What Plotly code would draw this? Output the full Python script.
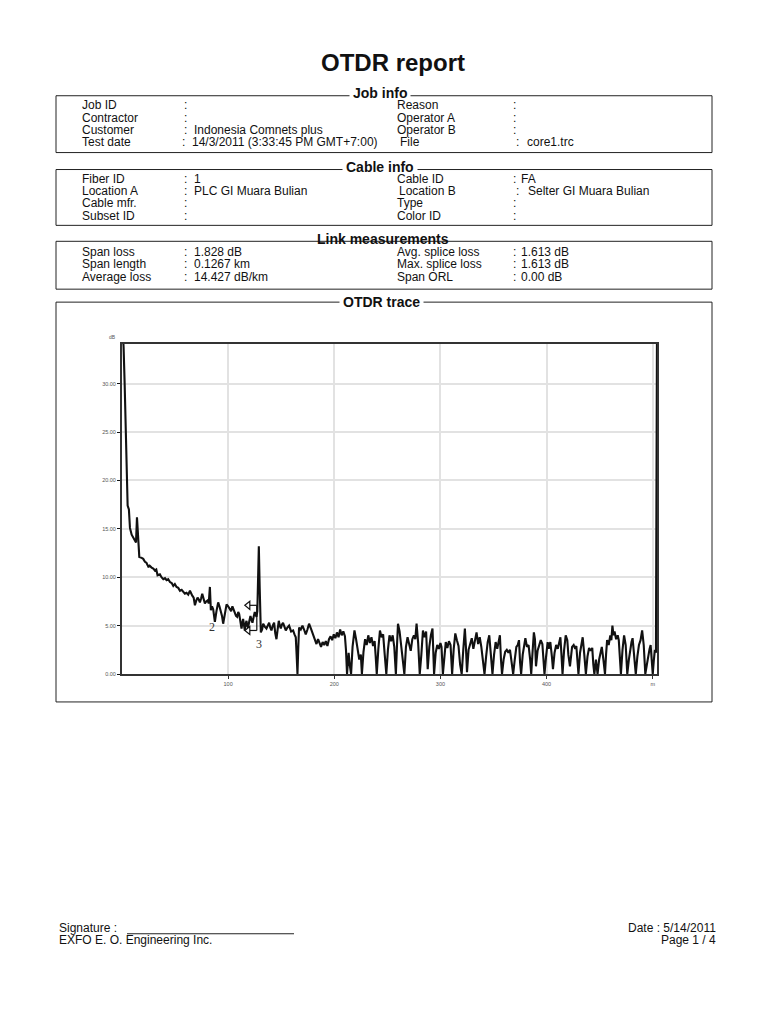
import plotly.graph_objects as go

PAGE_W, PAGE_H = 768, 1024
OFF = 8  # browser page margin around the figure
W, H = PAGE_W - OFF, PAGE_H - OFF
FONT = "Liberation Sans, Arial, sans-serif"

# ---------------- report text ----------------
report_title = "OTDR report"
section_titles = ["Job info", "Cable info", "Link measurements", "OTDR trace"]

job_left_labels = ["Job ID", "Contractor", "Customer", "Test date"]
job_left_values = ["", "", "Indonesia Comnets plus", "14/3/2011 (3:33:45 PM GMT+7:00)"]
job_right_labels = ["Reason", "Operator A", "Operator B", "File"]
job_right_values = ["", "", "", "core1.trc"]

cable_left_labels = ["Fiber ID", "Location A", "Cable mfr.", "Subset ID"]
cable_left_values = ["1", "PLC GI Muara Bulian", "", ""]
cable_right_labels = ["Cable ID", "Location B", "Type", "Color ID"]
cable_right_values = ["FA", "Selter GI Muara Bulian", "", ""]

link_left_labels = ["Span loss", "Span length", "Average loss"]
link_left_values = ["1.828 dB", "0.1267 km", "14.427 dB/km"]
link_right_labels = ["Avg. splice loss", "Max. splice loss", "Span ORL"]
link_right_values = ["1.613 dB", "1.613 dB", "0.00 dB"]

footer_left = ["Signature :", "EXFO E. O. Engineering Inc."]
footer_right = ["Date : 5/14/2011", "Page 1 / 4"]

# ---------------- OTDR trace (distance in m, level in dB) ----------------
distance_m = [
    0.6, 1.5, 2.5, 3.5, 4.4, 5.3, 6.5, 7.5, 9.1, 10.6, 12.2, 13.2, 14.1, 15.0, 16.3, 18.5, 20, 21.6, 23, 24.8,
    26, 27.9, 29.5, 31, 32.3, 33.5, 35.7, 37.2, 38.9, 40.5, 42, 43.5, 45.2, 46.8, 48.3, 49.8, 51.4, 53, 54.6, 56.2,
    57.7, 59.2, 60.8, 62.4, 64, 65.1, 66.2, 67.5, 68.7, 70, 71.2, 72.3, 73.4, 74.5, 75.6, 76.8, 78.1, 79.4, 80.6, 81.7,
    82.8, 83.7, 84.8, 85.9, 86.7, 87.5, 89, 90.6, 91.8, 93, 94.2, 95.3, 96.9, 98.5, 100, 101.6, 102.8, 104, 105.2, 106.3,
    107.4, 108.5, 109.5, 110.4, 111.5, 112.6, 113.4, 114.1, 115, 115.7, 116.5, 117.3, 118, 118.8, 120, 121, 122, 122.9, 124, 125.1,
    126, 126.7, 127.5, 128.3, 128.9, 129.7, 130.8, 132, 133, 134.5, 136.1, 137.3, 138.6, 139.7, 140.8, 142, 143.3, 144.4, 145.5, 146.6,
    147.7, 148.7, 149.6, 150.6, 151.7, 153, 154.3, 155.8, 157.4, 159.3, 161.2, 162.5, 163.7, 164.5, 165.3, 166, 166.8, 168.4, 170, 171.5,
    173.1, 174.7, 176.2, 178, 180, 181.6, 183.2, 184.7, 186, 187.5, 189, 190.5, 192, 193.5, 195, 196.5, 198, 199.5, 201, 202.5,
    204, 205.5, 207, 208.5, 210, 211, 212, 213.5, 214.5, 215.8, 217.2, 219, 220.5, 222, 223.5, 225, 226, 227.5, 229, 230.5,
    232, 233.5, 235, 236.5, 238, 239, 240, 241.5, 243, 244.5, 246, 247.5, 249, 250.5, 252, 253.5, 255, 256.5, 258, 259,
    260, 261.5, 263, 264.5, 266, 267.5, 269, 270.5, 272, 273.5, 275, 276.3, 277.5, 279, 280.5, 282, 283.5, 285, 286.5, 288,
    289.5, 291, 292.5, 294, 295.5, 297, 298.5, 300, 301, 302.3, 303.5, 305, 306.5, 308, 309.5, 311, 312.5, 314, 315.5, 317,
    318.5, 320, 321.5, 323, 324, 325, 326.5, 328, 329.5, 331, 332.5, 334, 335.5, 337, 338.5, 340, 341.5, 343, 344.5, 346,
    347.5, 349, 350.5, 352, 353.5, 355, 356, 357, 358, 359.5, 361, 362.5, 364, 365.5, 367, 368.5, 370, 371.5, 372.8, 374,
    375, 376, 377.5, 379, 380, 381.5, 383, 384.5, 385.5, 386.5, 388, 389, 390, 391.5, 393, 394.5, 396, 397, 398, 399.5,
    401, 402, 403.5, 405, 406, 407.5, 409, 410.5, 412, 413, 414, 415, 416.5, 418, 419.5, 420.5, 422, 423, 424, 425.5,
    427, 428, 429, 430, 431.5, 433, 434, 435.5, 437, 438.5, 440, 441.5, 443, 444, 445, 446.5, 448, 449.5, 451, 452,
    453.5, 455, 456, 457, 458.5, 460, 461, 462, 463, 464, 465.5, 467, 468, 469, 470, 471.5, 473, 474.5, 476, 477.5,
    479, 480, 481, 482.5, 484, 485.5, 487, 488.5, 490, 491.5, 493, 494.5, 496, 497, 498, 499, 500, 501, 502, 503,
    504,
]
level_db = [
    35.5, 33.8, 30.0, 25.0, 20.3, 17.4, 17.0, 15.1, 14.4, 14.1, 13.8, 13.6, 16.2, 14.8, 12.1, 12.0, 11.9, 11.6, 11.5, 11.1,
    11.2, 11.0, 10.9, 10.7, 10.8, 10.2, 10.3, 10.0, 9.8, 9.9, 9.7, 9.8, 9.5, 9.4, 9.1, 9.3, 9.0, 8.9, 8.6, 8.7,
    8.5, 8.3, 8.4, 8.2, 8.6, 8.3, 8.1, 7.9, 7.1, 7.6, 7.9, 7.7, 7.4, 7.8, 8.3, 7.8, 7.3, 7.5, 7.6, 7.3,
    9.0, 6.6, 7.0, 6.7, 6.2, 5.4, 6.5, 7.4, 7.0, 6.6, 6.0, 5.2, 6.4, 7.2, 7.0, 6.7, 6.5, 7.0, 6.6, 6.4,
    6.0, 5.9, 6.4, 6.2, 5.4, 4.7, 5.3, 5.7, 5.0, 4.5, 5.2, 5.5, 5.0, 4.8, 5.5, 6.0, 5.6, 5.3, 5.9, 6.4,
    6.1, 5.9, 6.5, 11.0, 13.2, 9.0, 4.3, 4.6, 5.2, 4.9, 4.7, 5.0, 5.3, 4.8, 4.5, 5.0, 5.3, 4.2, 3.6, 4.6,
    5.5, 5.0, 4.7, 5.1, 5.3, 4.9, 4.5, 4.8, 5.0, 4.4, 4.5, 4.1, 3.8, 2.0, 0.0, 2.5, 4.8, 4.6, 5.0, 4.6,
    4.1, 4.6, 5.2, 4.7, 4.1, 3.6, 3.1, 3.6, 3.2, 2.8, 3.3, 3.0, 3.4, 2.9, 3.6, 3.9, 3.5, 4.1, 3.7, 4.3,
    3.8, 4.6, 4.0, 4.4, 3.9, 2.5, 0.0, 2.2, 1.0, 0.0, 2.8, 4.5, 3.6, 2.4, 1.5, 2.0, 0.0, 2.3, 3.6, 3.0,
    4.0, 3.2, 3.8, 2.9, 3.4, 1.8, 0.0, 2.6, 4.5, 3.8, 4.1, 2.0, 0.0, 2.5, 4.0, 3.4, 4.0, 2.8, 0.0, 2.8,
    5.2, 4.4, 3.0, 1.0, 0.0, 2.8, 3.8, 3.1, 2.4, 3.6, 4.0, 3.6, 5.2, 3.2, 0.0, 2.0, 4.5, 3.8, 4.4, 0.5,
    2.8, 4.0, 4.7, 0.0, 2.2, 3.0, 2.6, 3.2, 2.8, 0.0, 1.5, 3.3, 2.7, 3.4, 3.0, 0.0, 2.6, 4.2, 3.5, 2.9,
    1.0, 0.0, 2.5, 4.7, 2.8, 0.2, 2.5, 3.0, 3.7, 2.6, 3.5, 4.3, 3.1, 3.8, 2.8, 1.2, 0.0, 1.8, 3.3, 4.0,
    2.0, 0.0, 2.0, 3.3, 2.6, 3.6, 4.0, 1.5, 0.0, 1.5, 2.3, 2.5, 2.2, 2.5, 1.2, 0.0, 1.5, 2.8, 3.0, 3.5,
    1.2, 0.0, 2.0, 3.2, 3.7, 2.8, 3.0, 1.5, 0.0, 1.8, 4.3, 3.6, 0.8, 2.4, 2.9, 3.5, 3.1, 1.0, 0.0, 1.8,
    3.3, 2.6, 3.3, 1.8, 0.5, 2.2, 3.0, 2.6, 3.2, 3.8, 2.0, 0.0, 2.5, 4.0, 3.5, 2.0, 0.8, 2.0, 2.8, 3.0,
    2.6, 2.9, 1.0, 0.0, 2.2, 3.3, 3.8, 2.0, 0.0, 1.8, 2.7, 2.4, 2.7, 1.0, 0.0, 1.5, 0.0, 1.5, 2.5, 2.8,
    1.5, 0.0, 2.0, 3.5, 3.0, 4.0, 3.5, 5.0, 4.0, 4.4, 3.6, 4.0, 3.5, 2.0, 0.0, 2.5, 4.0, 3.0, 0.0, 1.5,
    2.8, 3.3, 3.7, 2.0, 0.0, 1.8, 3.0, 3.5, 4.5, 3.0, 0.0, 1.0, 2.2, 2.6, 3.0, 1.5, 0.0, 1.4, 2.5, 2.2,
    36.0,
]

# events found on the trace
event_labels = ["2", "3"]
event_label_distance = [84.7, 129.2]
event_label_level = [4.9, 3.1]
# span marker bracket
bracket_distance = 127.0
bracket_levels = [7.1, 4.5]
bracket_arrow_tip = 115.7

# axes
y_tickvals = [0, 5, 10, 15, 20, 25, 30]
y_ticktext = ["0.00", "5.00", "10.00", "15.00", "20.00", "25.00", "30.00"]
x_tickvals = [100, 200, 300, 400, 500]
x_ticktext = ["100", "200", "300", "400", "m"]
x_range = [0, 504]
y_range = [0, 34.1]


def px(x):
    return (x - OFF) / W


def py(y):
    return 1 - (y - OFF) / H


fig = go.Figure()
fig.add_trace(go.Scatter(
    x=distance_m, y=level_db, mode="lines",
    line=dict(color="#111111", width=2.1), hoverinfo="skip", showlegend=False,
))

annotations = []
shapes = []
TX = -2  # annotation padding compensation


def text(x, y, s, size=12, bold=False, anchor="left", bg=None, color="#111111", family=FONT):
    if bold:
        s = "<b>" + s + "</b>"
    if anchor == "left":
        x += TX
    elif anchor == "right":
        x -= TX
    a = dict(x=px(x), y=py(y), xref="paper", yref="paper", text=s, showarrow=False,
             xanchor=anchor, yanchor="middle", font=dict(family=family, size=size, color=color))
    if bg:
        a["bgcolor"] = bg
        a["borderpad"] = 3
    annotations.append(a)


def box(x0, y0, x1, y1):
    shapes.append(dict(type="rect", xref="paper", yref="paper", x0=px(x0), x1=px(x1), y0=py(y0), y1=py(y1),
                       line=dict(color="#222222", width=1), fillcolor="rgba(0,0,0,0)", layer="below"))


# title
text(393, 63, report_title, size=24, bold=True, anchor="center")

# section boxes
box(56, 96, 712, 153)
box(56, 170, 712, 226)
box(56, 242, 712, 290)
box(56, 303, 712, 704)
text(380, 93, section_titles[0], size=14, bold=True, anchor="center", bg="white")
text(380, 167, section_titles[1], size=14, bold=True, anchor="center", bg="white")
text(383, 240, section_titles[2], size=14, bold=True, anchor="center")
text(381, 303, section_titles[3], size=14, bold=True, anchor="center", bg="white")


def rows(ys, ll, lv, rl, rv, lcol_dx=None, rlab_dx=None, rcol_dx=None, rval_dx=None):
    n = len(ys)
    lcol_dx = lcol_dx or [0] * n
    rlab_dx = rlab_dx or [0] * n
    rcol_dx = rcol_dx or [0] * n
    rval_dx = rval_dx or [0] * n
    for i, y in enumerate(ys):
        text(82, y, ll[i])
        text(184 + lcol_dx[i], y, ":")
        if lv[i]:
            text(194 + lcol_dx[i], y, lv[i])
        text(397 + rlab_dx[i], y, rl[i])
        text(513 + rcol_dx[i], y, ":")
        if rv[i]:
            text(521 + rval_dx[i], y, rv[i])


rows([105.5, 118, 130.5, 142.5], job_left_labels, job_left_values, job_right_labels, job_right_values,
     lcol_dx=[0, 0, 0, -2], rlab_dx=[0, 0, 0, 3], rcol_dx=[0, 0, 0, 3], rval_dx=[0, 0, 0, 6])
rows([179.3, 191.3, 204, 216.5], cable_left_labels, cable_left_values, cable_right_labels, cable_right_values,
     rlab_dx=[0, 2, 0, 0], rcol_dx=[0, 3, 0, 0], rval_dx=[0, 7, 0, 0])
rows([252.7, 264.8, 277.7], link_left_labels, link_left_values, link_right_labels, link_right_values)

# footer
text(59, 931, footer_left[0])
shapes.append(dict(type="line", xref="paper", yref="paper", x0=px(127), x1=px(294), y0=py(936.5), y1=py(936.5),
                   line=dict(color="#222222", width=1)))
text(59, 943, footer_left[1])
text(716, 931, footer_right[0], anchor="right")
text(716, 943, footer_right[1], anchor="right")

# chart unit label
text(112, 338, "dB", size=5, anchor="center", color="#555555")

# event labels
for lab, d, lv in zip(event_labels, event_label_distance, event_label_level):
    annotations.append(dict(x=d, y=lv, xref="x", yref="y", text=lab, showarrow=False,
                            font=dict(family="Liberation Serif, Times New Roman, serif", size=12, color="#333333"),
                            xanchor="center", yanchor="middle"))

# bracket with open arrowheads
head_len = 4.7
head_half = 0.42
shapes.append(dict(type="line", xref="x", yref="y", x0=bracket_distance, x1=bracket_distance,
                   y0=bracket_levels[1], y1=bracket_levels[0], line=dict(color="#111111", width=1.2)))
for lv in bracket_levels:
    shapes.append(dict(type="line", xref="x", yref="y", x0=bracket_arrow_tip + head_len, x1=bracket_distance,
                       y0=lv, y1=lv, line=dict(color="#111111", width=1.2)))
    path = "M {t},{y} L {b},{u} L {b},{d} Z".format(t=bracket_arrow_tip, b=bracket_arrow_tip + head_len,
                                                    y=lv, u=lv + head_half, d=lv - head_half)
    shapes.append(dict(type="path", xref="x", yref="y", path=path, fillcolor="white",
                       line=dict(color="#111111", width=1.2)))

fig.update_layout(
    width=W, height=H, autosize=False,
    margin=dict(l=0, r=0, t=0, b=0),
    paper_bgcolor="white", plot_bgcolor="white",
    annotations=annotations, shapes=shapes,
    xaxis=dict(domain=[px(122), px(657)], range=x_range, tickvals=x_tickvals, ticktext=x_ticktext,
               showgrid=True, gridcolor="#e2e2e2", gridwidth=1.5, zeroline=False,
               showline=True, linecolor="#333333", linewidth=2, mirror=True,
               ticks="outside", ticklen=3, tickcolor="#333333", tickwidth=1,
               tickfont=dict(family=FONT, size=5.5, color="#555555"), fixedrange=True),
    yaxis=dict(domain=[py(676), py(345)], range=y_range, tickvals=y_tickvals, ticktext=y_ticktext,
               showgrid=True, gridcolor="#e2e2e2", gridwidth=1.5, zeroline=False,
               showline=True, linecolor="#333333", linewidth=2, mirror=True,
               ticks="outside", ticklen=3, tickcolor="#111111", tickwidth=1.2,
               tickfont=dict(family=FONT, size=5.5, color="#555555"), fixedrange=True),
)

fig.write_html("out.html")
